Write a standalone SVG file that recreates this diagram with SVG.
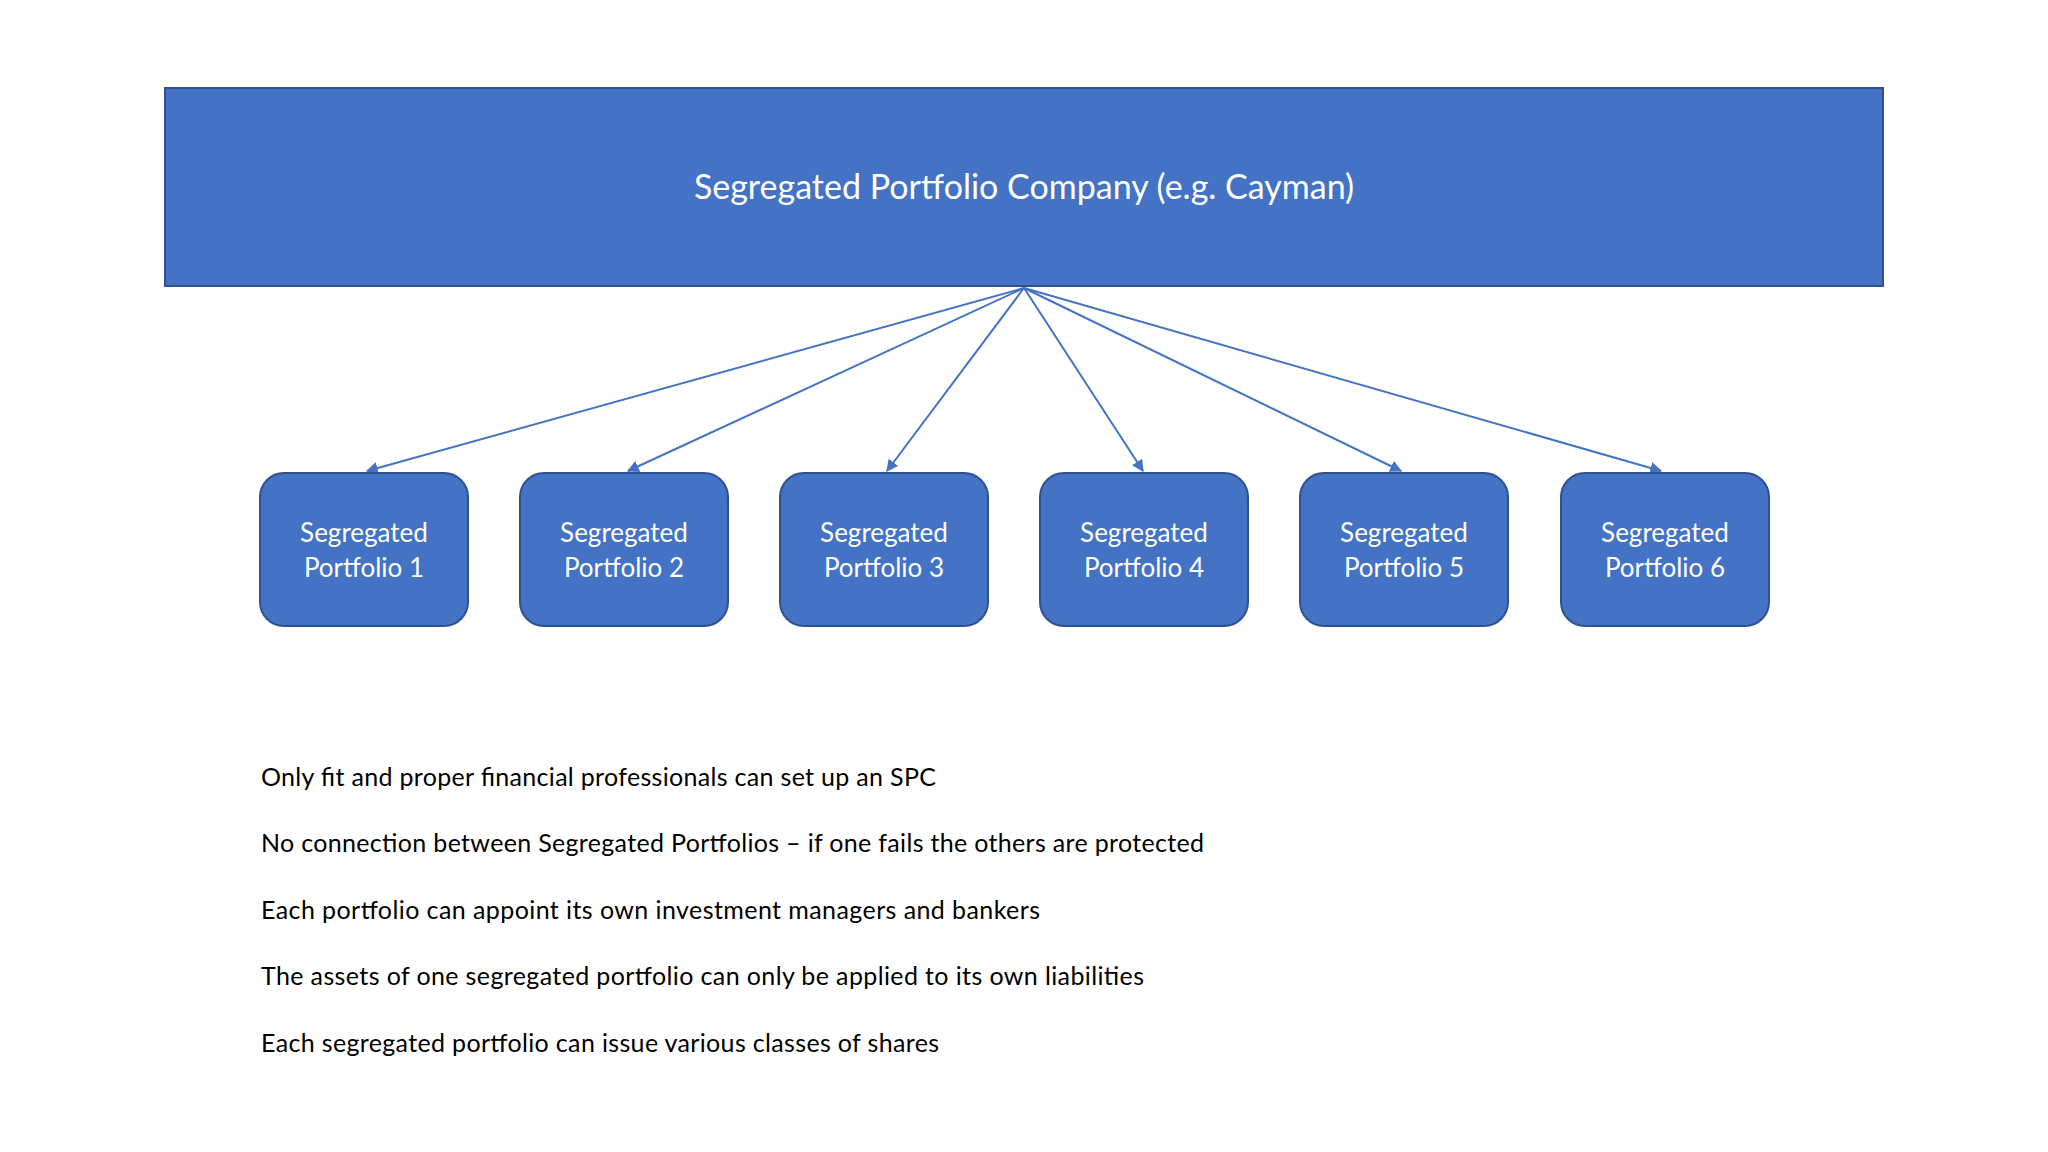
<svg xmlns="http://www.w3.org/2000/svg" width="2048" height="1152" viewBox="0 0 2048 1152">
<defs>
<style>
.box{fill:#4472C4;stroke:#2F528F;stroke-width:2}
.t{font-family:Lato,"Open Sans",sans-serif;fill:#fff;text-anchor:middle}
.n{font-family:Lato,"Open Sans",sans-serif;fill:#000;font-size:25px}
.c{stroke:#4472C4;stroke-width:2;fill:none;marker-end:url(#a)}
</style>
<marker id="a" viewBox="0 0 10 10" refX="9" refY="5" markerWidth="6" markerHeight="6" orient="auto"><path d="M0,0L10,5L0,10z" fill="#4472C4"/></marker>
</defs>
<rect width="2048" height="1152" fill="#fff"/>
<g id="spc"><rect class="box" x="165" y="88" width="1718" height="198"/>
<text class="t" x="1024" y="199" font-size="34">Segregated Portfolio Company (e.g. Cayman)</text></g>
<g id="connectors">
<line class="c" x1="1024" y1="288" x2="367" y2="471"/>
<line class="c" x1="1024" y1="288" x2="628" y2="471"/>
<line class="c" x1="1024" y1="288" x2="887" y2="471"/>
<line class="c" x1="1024" y1="288" x2="1143" y2="471"/>
<line class="c" x1="1024" y1="288" x2="1401" y2="471"/>
<line class="c" x1="1024" y1="288" x2="1661" y2="471"/>
</g>
<g id="p1"><rect class="box" x="260" y="473" width="208" height="153" rx="24"/><text class="t" font-size="26" x="364" y="542">Segregated</text><text class="t" font-size="26" x="364" y="577">Portfolio 1</text></g>
<g id="p2"><rect class="box" x="520" y="473" width="208" height="153" rx="24"/><text class="t" font-size="26" x="624" y="542">Segregated</text><text class="t" font-size="26" x="624" y="577">Portfolio 2</text></g>
<g id="p3"><rect class="box" x="780" y="473" width="208" height="153" rx="24"/><text class="t" font-size="26" x="884" y="542">Segregated</text><text class="t" font-size="26" x="884" y="577">Portfolio 3</text></g>
<g id="p4"><rect class="box" x="1040" y="473" width="208" height="153" rx="24"/><text class="t" font-size="26" x="1144" y="542">Segregated</text><text class="t" font-size="26" x="1144" y="577">Portfolio 4</text></g>
<g id="p5"><rect class="box" x="1300" y="473" width="208" height="153" rx="24"/><text class="t" font-size="26" x="1404" y="542">Segregated</text><text class="t" font-size="26" x="1404" y="577">Portfolio 5</text></g>
<g id="p6"><rect class="box" x="1561" y="473" width="208" height="153" rx="24"/><text class="t" font-size="26" x="1665" y="542">Segregated</text><text class="t" font-size="26" x="1665" y="577">Portfolio 6</text></g>
<g id="notes">
<text class="n" x="261" y="786" textLength="675">Only fit and proper financial professionals can set up an SPC</text>
<text class="n" x="261" y="852" textLength="943">No connection between Segregated Portfolios – if one fails the others are protected</text>
<text class="n" x="261" y="919" textLength="779">Each portfolio can appoint its own investment managers and bankers</text>
<text class="n" x="261" y="985" textLength="883">The assets of one segregated portfolio can only be applied to its own liabilities</text>
<text class="n" x="261" y="1052" textLength="678">Each segregated portfolio can issue various classes of shares</text>
</g>
</svg>
